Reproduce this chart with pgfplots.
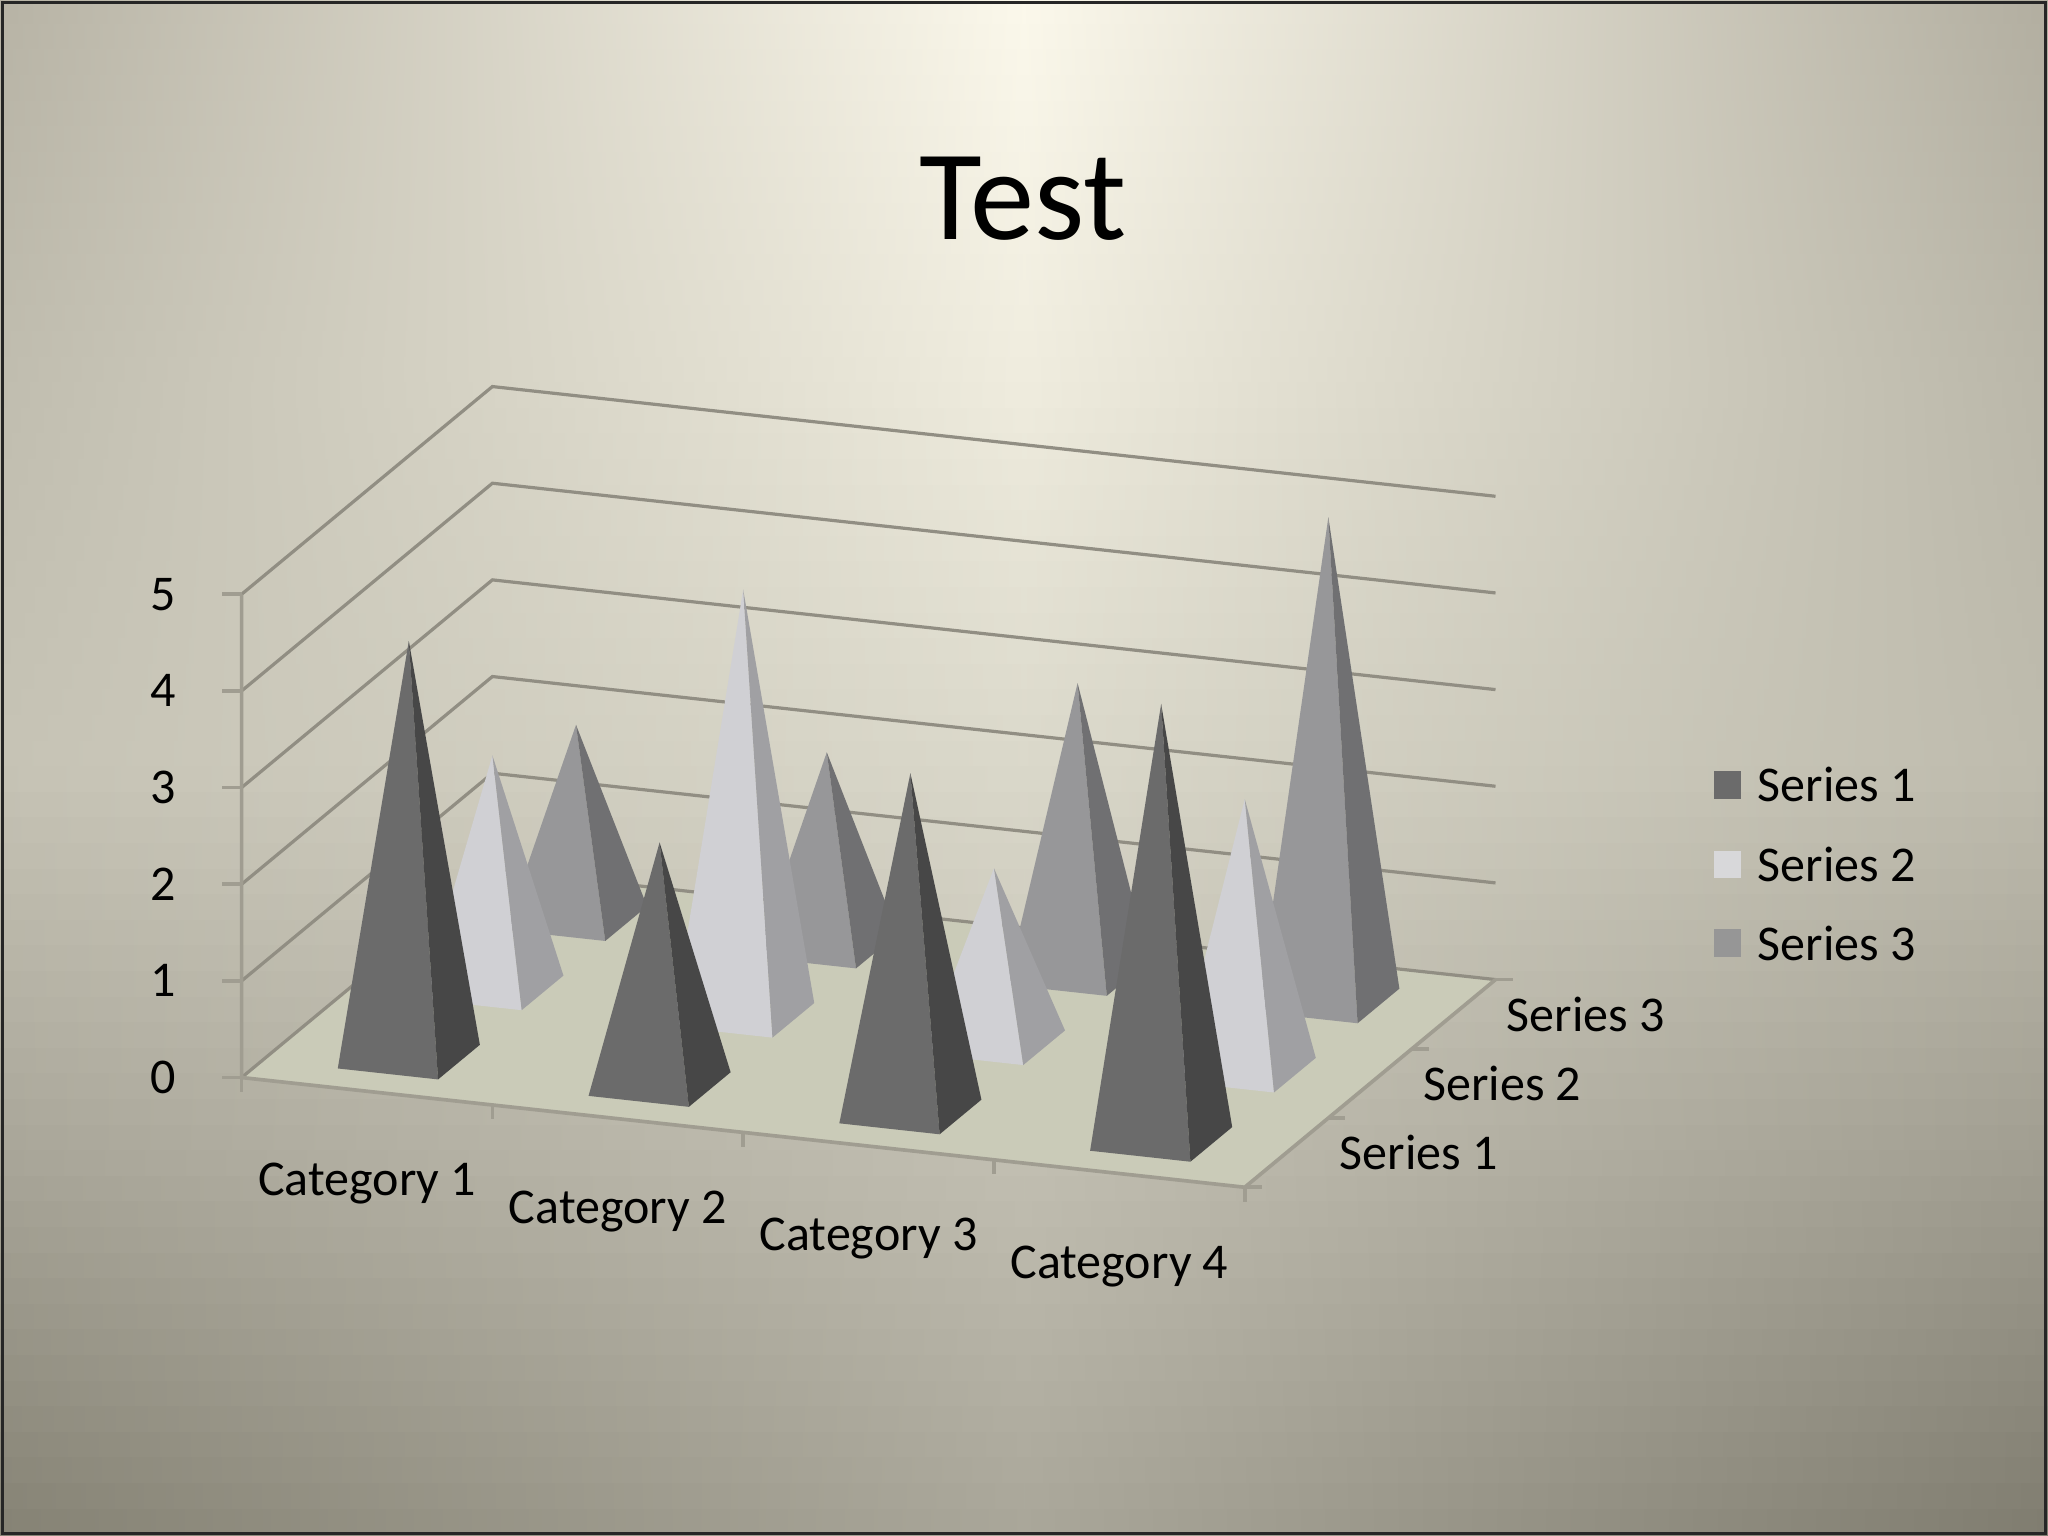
\documentclass[border=0pt]{standalone}
\usepackage{pgfplots}
\pgfplotsset{compat=1.18}
\usepackage{fontspec}
\setmainfont{Carlito}
\usetikzlibrary{backgrounds}

\definecolor{s1f}{HTML}{6B6B6B}
\definecolor{s1r}{HTML}{474747}
\definecolor{s2f}{HTML}{D0D0D4}
\definecolor{s2r}{HTML}{A0A0A3}
\definecolor{s3f}{HTML}{979799}
\definecolor{s3r}{HTML}{707072}
\definecolor{lg1}{HTML}{6B6B6B}
\definecolor{lg2}{HTML}{D8D8DA}
\definecolor{lg3}{HTML}{969696}
\definecolor{gridc}{HTML}{918E83}
\definecolor{axc}{HTML}{A09D91}
\definecolor{floorc}{HTML}{CACBB8}
% background key rows (top to bottom): left, centre, right
\definecolor{rL0}{HTML}{B7B3A5}\definecolor{rC0}{HTML}{FBF8EB}\definecolor{rR0}{HTML}{B2AEA0}
\definecolor{rL1}{HTML}{C0BDAF}\definecolor{rC1}{HTML}{EFECDE}\definecolor{rR1}{HTML}{BAB7A9}
\definecolor{rL2}{HTML}{C6C3B5}\definecolor{rC2}{HTML}{DAD8CA}\definecolor{rR2}{HTML}{BEBBAD}
\definecolor{rL3}{HTML}{A9A699}\definecolor{rC3}{HTML}{C2BFB2}\definecolor{rR3}{HTML}{A19E91}
\definecolor{rL4}{HTML}{858274}\definecolor{rC4}{HTML}{A9A699}\definecolor{rR4}{HTML}{7F7C6F}

\newcommand{\lbl}{\fontsize{10.9pt}{12pt}\selectfont}

% pyramid: x centre, y centre, value, front colour, side colour
\newcommand{\pyr}[5]{%
  \pgfmathsetmacro\xa{#1-0.2}%
  \pgfmathsetmacro\xb{#1+0.2}%
  \pgfmathsetmacro\ya{#2-0.25}%
  \pgfmathsetmacro\yb{#2+0.25}%
  \addplot3[fill=#4, draw=none] coordinates {(\xa,\ya,0) (\xb,\ya,0) (#1,#2,#3)};
  \addplot3[fill=#5, draw=none] coordinates {(\xb,\ya,0) (\xb,\yb,0) (#1,#2,#3)};
}

\begin{document}
\begin{tikzpicture}
\begin{axis}[
  x={(1.92cm,-0.21cm)}, y={(0.64cm,0.53cm)}, z={(0cm,0.74cm)},
  xmin=0, xmax=4, ymin=0, ymax=3, zmin=0, zmax=5,
  hide axis, clip=false, no markers,
]
\coordinate (O) at (axis cs:0,0,0);
% floor
\fill[floorc] (axis cs:0,0,0) -- (axis cs:4,0,0) -- (axis cs:4,3,0) -- (axis cs:0,3,0) -- cycle;
% grid on the side and back walls
\pgfplotsinvokeforeach{0,...,5}{
  \draw[gridc, line width=0.7pt] (axis cs:0,0,#1) -- (axis cs:0,3,#1) -- (axis cs:4,3,#1);
}
% Series 3
\pyr{0.5}{2.5}{2}{s3f}{s3r}
\pyr{1.5}{2.5}{2}{s3f}{s3r}
\pyr{2.5}{2.5}{3}{s3f}{s3r}
\pyr{3.5}{2.5}{5}{s3f}{s3r}
% Series 2
\pyr{0.5}{1.5}{2.4}{s2f}{s2r}
\pyr{1.5}{1.5}{4.4}{s2f}{s2r}
\pyr{2.5}{1.5}{1.8}{s2f}{s2r}
\pyr{3.5}{1.5}{2.8}{s2f}{s2r}
% Series 1
\pyr{0.5}{0.5}{4.3}{s1f}{s1r}
\pyr{1.5}{0.5}{2.5}{s1f}{s1r}
\pyr{2.5}{0.5}{3.5}{s1f}{s1r}
\pyr{3.5}{0.5}{4.5}{s1f}{s1r}
% axis lines
\draw[axc, line width=0.8pt] (axis cs:0,0,5) -- (axis cs:0,0,0) -- (axis cs:4,0,0) -- (axis cs:4,3,0);
\pgfplotsinvokeforeach{0,...,5}{
  \draw[axc, line width=0.8pt] (axis cs:0,0,#1) -- ++(-0.15cm,0);
  \node[anchor=east, inner sep=0pt, font=\lbl] at ([xshift=-0.50cm]axis cs:0,0,#1) {#1};
}
\pgfplotsinvokeforeach{0,...,4}{
  \draw[axc, line width=0.8pt] (axis cs:#1,0,0) -- ++(0,-0.11cm);
}
\pgfplotsinvokeforeach{0,...,3}{
  \draw[axc, line width=0.8pt] (axis cs:4,#1,0) -- ++(0.13cm,0);
}
\node[anchor=base, inner sep=0pt, font=\lbl] at ([yshift=-0.80cm]axis cs:0.5,0,0) {Category 1};
\node[anchor=base, inner sep=0pt, font=\lbl] at ([yshift=-0.80cm]axis cs:1.5,0,0) {Category 2};
\node[anchor=base, inner sep=0pt, font=\lbl] at ([yshift=-0.80cm]axis cs:2.5,0,0) {Category 3};
\node[anchor=base, inner sep=0pt, font=\lbl] at ([yshift=-0.80cm]axis cs:3.5,0,0) {Category 4};
\node[anchor=west, inner sep=0pt, font=\lbl] at ([xshift=0.40cm]axis cs:4,0.5,0) {Series 1};
\node[anchor=west, inner sep=0pt, font=\lbl] at ([xshift=0.40cm]axis cs:4,1.5,0) {Series 2};
\node[anchor=west, inner sep=0pt, font=\lbl] at ([xshift=0.40cm]axis cs:4,2.5,0) {Series 3};
\end{axis}

\begin{scope}[shift={(O)}, xshift=-1.85cm, yshift=-3.51cm]
  \begin{scope}[on background layer]
    \clip (0,0) rectangle (15.68,11.76);
    \foreach \i in {0,...,59}{
      \pgfmathsetmacro\tt{(\i+0.5)/15}%  position in segments (0..4)
      \pgfmathtruncatemacro\s{floor(\tt)}%
      \pgfmathtruncatemacro\sn{\s+1}%
      \pgfmathtruncatemacro\p{round(100*(1-(\tt-\s)))}%
      \colorlet{cL}{rL\s!\p!rL\sn}%
      \colorlet{cC}{rC\s!\p!rC\sn}%
      \colorlet{cR}{rR\s!\p!rR\sn}%
      \pgfmathsetmacro\ytop{11.76-\i*0.196}%
      \shade[left color=cL, right color=cR, middle color=cC] (0,\ytop+0.01) rectangle (15.68,\ytop-0.206);
    }
  \end{scope}
  \draw[black!85, line width=0.8pt] (0.02,0.02) rectangle (15.66,11.74);
  \node[inner sep=0pt, font=\fontsize{28pt}{32pt}\selectfont] at (7.83,10.24) {Test};
  % legend
  \fill[lg1] (13.12,5.645) rectangle ++(0.21,0.21);
  \fill[lg2] (13.12,5.035) rectangle ++(0.21,0.21);
  \fill[lg3] (13.12,4.435) rectangle ++(0.21,0.21);
  \node[anchor=west, inner sep=0pt, font=\lbl] at (13.45,5.75) {Series 1};
  \node[anchor=west, inner sep=0pt, font=\lbl] at (13.45,5.14) {Series 2};
  \node[anchor=west, inner sep=0pt, font=\lbl] at (13.45,4.54) {Series 3};
  \pgfresetboundingbox
  \path[use as bounding box] (0,0) rectangle (15.68,11.76);
\end{scope}
\end{tikzpicture}
\end{document}
